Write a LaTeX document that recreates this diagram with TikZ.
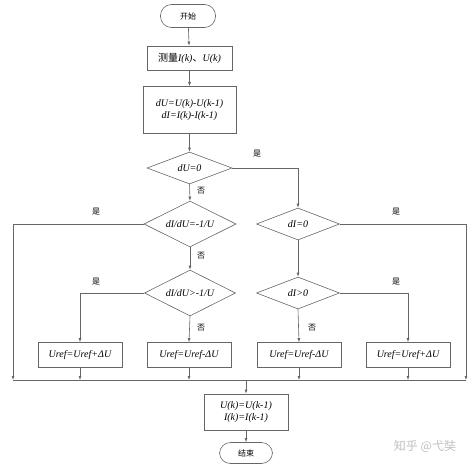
\documentclass[tikz,border=0pt]{standalone}
\usepackage{fontspec}
\setmainfont{Liberation Serif}
\newfontfamily\cjk{Noto Sans CJK SC}
\usepackage{tikz}
\usetikzlibrary{shapes.geometric,arrows.meta}

\begin{document}
\begin{tikzpicture}[x=1pt,y=-1pt,
        line/.style={draw=black!60, line width=0.6pt},
        arr/.style={line, -{Latex[length=4pt,width=3pt]}},
        box/.style={line, fill=white, minimum width=84pt, minimum height=25pt, inner sep=1pt, font=\itshape},
        term/.style={line, rounded corners=11pt, minimum width=55pt, minimum height=23pt, font=\cjk\fontsize{8}{9}\selectfont},
        test/.style={line, diamond, aspect=2, inner sep=0pt, font=\itshape},
        yesno/.style={font=\cjk\fontsize{8}{9}\selectfont}]
        \useasboundingbox (0,0) rectangle (474,466);
        % start, measure, differences
        \node[term] (start) at (188,16) {开始};
        \node[box, minimum width=85pt, minimum height=24pt] (meas) at (189.5,58) {{\cjk 测量}\textit{I}(\textit{k}){\cjk 、}\textit{U}(\textit{k})};
        \node[box, minimum width=93pt, minimum height=47pt, align=center] (diff) at (189.5,110) {dU=U(k)-U(k-1)\\dI=I(k)-I(k-1)};
        % decisions
        \node[test, minimum width=85pt, minimum height=32pt] (zu) at (189.5,168) {dU=0};
        \node[test, minimum width=92pt, minimum height=46pt] (eqc) at (190,224) {dI/dU=-1/U};
        \node[test, minimum width=83pt, minimum height=32pt] (zi) at (298,224) {dI=0};
        \node[test, minimum width=91pt, minimum height=46pt] (gtc) at (190,293) {dI/dU>-1/U};
        \node[test, minimum width=83pt, minimum height=32pt] (pi) at (298,293) {dI>0};
        % updates of Uref
        \foreach \n/\x/\t in {up1/80/Uref=Uref+ΔU, dn1/189/Uref=Uref-ΔU,
                              dn2/299/Uref=Uref-ΔU, up2/408/Uref=Uref+ΔU}
        \node[box] (\n) at (\x,355) {\t};
        \node[box, minimum height=36pt, align=center] (keep) at (246,412) {U(k)=U(k-1)\\I(k)=I(k-1)};
        \node[term, minimum width=53pt, minimum height=21pt] (stop) at (246,453) {结束};
        % bus line
        \coordinate (busl) at (13,380);
        \coordinate (busr) at (466,380);
        \draw[line] (busl) -- (busr);
        % connectors
        \draw[arr] (start) -- (meas);
        \draw[arr] (meas) -- (diff);
        \draw[arr] (diff) -- (zu);
        \draw[arr] (zu.east) -| (zi.north);
        \draw[arr] (zu.south) -- (eqc.north);
        \draw[arr] (eqc.west) -| (busl);
        \draw[arr] (zi.east) -| (busr);
        \draw[arr] (eqc.south) -- (gtc.north);
        \draw[arr] (zi.south) -- (pi.north);
        \draw[arr] (gtc.west) -| (up1.north);
        \draw[arr] (gtc.south) -- (dn1.north);
        \draw[arr] (pi.south) -- (dn2.north);
        \draw[arr] (pi.east) -| (up2.north);
        \foreach \n in {up1,dn1,dn2,up2}
        \draw[arr] (\n.south) -- (\n.south |- busl);
        \draw[arr] (keep.north |- busl) -- (keep.north);
        \draw[arr] (keep) -- (stop);
        % yes / no labels
        \foreach \x/\y/\t in {257/154/是, 201/191/否, 96/212/是, 396/212/是,
                              201/256/否, 96/282/是, 201/328/否, 312/328/否, 396/282/是}
        \node[yesno] at (\x,\y) {\t};
        \node[font=\cjk\fontsize{12}{14}\selectfont, text=black!25] (mark) at (425,446) {知乎 @弋奘};
      \end{tikzpicture}
\end{document}
